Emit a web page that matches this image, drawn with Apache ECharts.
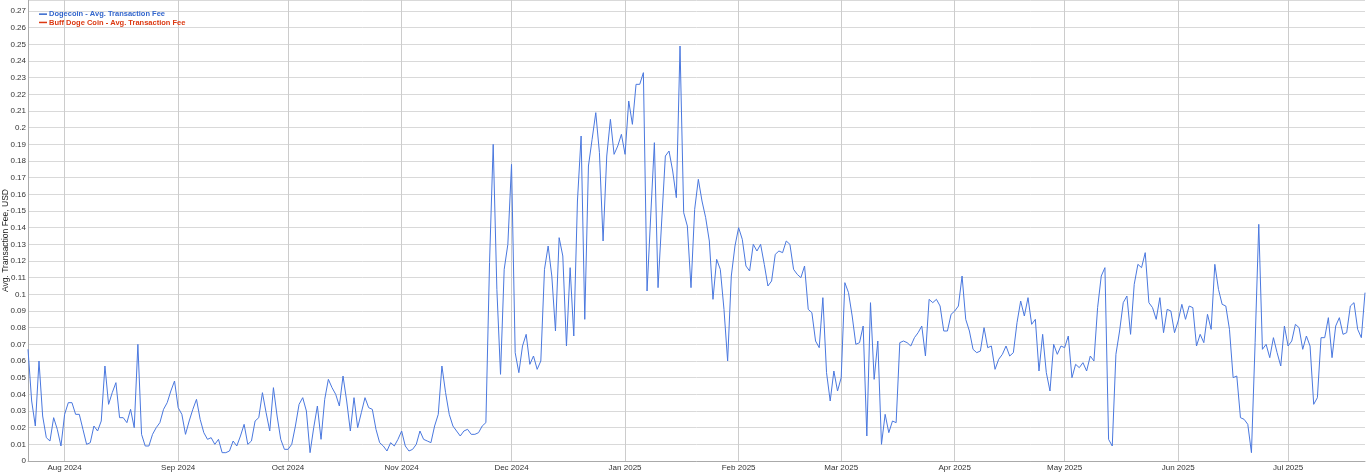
<!DOCTYPE html>
<html>
<head>
<meta charset="utf-8">
<script src="https://cdn.jsdelivr.net/npm/echarts@6/dist/echarts.min.js"></script>
<style>
html,body{margin:0;padding:0;background:#fff;}
#chart{width:1366px;height:472px;}
</style>
</head>
<body>
<div id="chart"></div>
<script>
// Daily average transaction fee (USD), Dogecoin, 2024-07-22 .. 2025-07-22
const startDate = '2024-07-22';
const jul2024 = [0.067,0.036,0.021,0.060,0.027,0.014,0.012,0.026,0.019,0.009];
const aug2024 = [0.028,0.035,0.035,0.028,0.028,0.019,0.010,0.011,0.021,0.018,0.024,0.057,0.034,0.041,0.047,0.026,0.026,0.023,0.031,0.020,0.070,0.016,0.009,0.009,0.016,0.020,0.023,0.031,0.035,0.042,0.048];
const sep2024 = [0.032,0.028,0.016,0.024,0.031,0.037,0.025,0.017,0.013,0.014,0.010,0.013,0.005,0.005,0.006,0.012,0.009,0.015,0.022,0.010,0.012,0.024,0.026,0.041,0.029,0.018,0.044,0.027,0.013,0.007];
const oct2024 = [0.007,0.010,0.021,0.034,0.038,0.030,0.005,0.020,0.033,0.013,0.037,0.049,0.044,0.040,0.033,0.051,0.036,0.018,0.038,0.020,0.029,0.038,0.032,0.031,0.019,0.011,0.009,0.006,0.011,0.009,0.013];
const nov2024 = [0.018,0.009,0.006,0.007,0.010,0.018,0.013,0.012,0.011,0.021,0.028,0.057,0.041,0.028,0.021,0.018,0.015,0.018,0.019,0.016,0.016,0.017,0.021,0.023,0.119,0.190,0.103,0.052,0.115,0.130];
const dec2024 = [0.178,0.065,0.053,0.069,0.076,0.058,0.063,0.055,0.060,0.115,0.129,0.111,0.078,0.134,0.123,0.069,0.116,0.075,0.156,0.195,0.085,0.177,0.193,0.209,0.185,0.132,0.183,0.205,0.184,0.189,0.196];
const jan2025 = [0.184,0.216,0.202,0.226,0.226,0.233,0.102,0.147,0.191,0.104,0.144,0.183,0.186,0.174,0.158,0.249,0.149,0.141,0.104,0.151,0.169,0.156,0.146,0.132,0.097,0.121,0.115,0.091,0.060,0.111,0.129];
const feb2025 = [0.140,0.133,0.117,0.114,0.130,0.126,0.130,0.118,0.105,0.108,0.124,0.126,0.125,0.132,0.130,0.115,0.112,0.110,0.117,0.091,0.089,0.072,0.068,0.098,0.053,0.036,0.054,0.042];
const mar2025 = [0.050,0.107,0.101,0.087,0.070,0.071,0.081,0.015,0.095,0.049,0.072,0.010,0.028,0.017,0.024,0.023,0.071,0.072,0.071,0.069,0.074,0.077,0.081,0.063,0.097,0.095,0.097,0.093,0.078,0.078,0.088];
const apr2025 = [0.090,0.093,0.111,0.085,0.078,0.067,0.065,0.066,0.080,0.068,0.069,0.055,0.061,0.064,0.069,0.063,0.065,0.083,0.096,0.087,0.098,0.082,0.085,0.054,0.076,0.053,0.042,0.070,0.064,0.069];
const may2025 = [0.068,0.075,0.050,0.058,0.056,0.059,0.054,0.063,0.060,0.092,0.111,0.116,0.013,0.009,0.064,0.078,0.095,0.099,0.076,0.106,0.118,0.116,0.125,0.095,0.092,0.085,0.098,0.077,0.091,0.090,0.077];
const jun2025 = [0.084,0.094,0.085,0.093,0.092,0.069,0.076,0.071,0.088,0.079,0.118,0.103,0.094,0.093,0.079,0.050,0.051,0.026,0.025,0.022,0.005,0.071,0.142,0.067,0.070,0.062,0.074,0.065,0.057,0.081];
const jul2025 = [0.069,0.072,0.082,0.080,0.067,0.075,0.069,0.034,0.038,0.074,0.074,0.086,0.062,0.081,0.086,0.076,0.077,0.093,0.095,0.079,0.074,0.101];
const buffDogeValues = [];

const tickDates  = ['2024-08-01','2024-09-01','2024-10-01','2024-11-01','2024-12-01','2025-01-01','2025-02-01','2025-03-01','2025-04-01','2025-05-01','2025-06-01','2025-07-01'];
const tickLabels = ['Aug 2024','Sep 2024','Oct 2024','Nov 2024','Dec 2024','Jan 2025','Feb 2025','Mar 2025','Apr 2025','May 2025','Jun 2025','Jul 2025'];

const dogeValues = [].concat(jul2024,aug2024,sep2024,oct2024,nov2024,dec2024,jan2025,feb2025,mar2025,apr2025,may2025,jun2025,jul2025);

const categories = [];
(function(){
  const p = startDate.split('-').map(Number);
  const t0 = Date.UTC(p[0], p[1]-1, p[2]);
  for (let i = 0; i < dogeValues.length; i++) {
    categories.push(new Date(t0 + i*86400000).toISOString().slice(0,10));
  }
})();

const labelOf = {};
tickDates.forEach((d,i)=>{ labelOf[d] = tickLabels[i]; });
const isTick = (idx, val) => labelOf[val] !== undefined;

const FONT = 'Arial, "Liberation Sans", sans-serif';
const chart = echarts.init(document.getElementById('chart'), null, {renderer:'canvas'});
chart.setOption({
  animation: false,
  backgroundColor: '#ffffff',
  textStyle: {fontFamily: FONT},
  legend: {
    orient: 'vertical',
    left: 34, top: 5,
    itemWidth: 8, itemHeight: 1.5, itemGap: 0,
    icon: 'rect',
    textStyle: {fontSize: 7.5, fontWeight: 'bold', fontFamily: FONT, lineHeight: 8.3, padding:[0,0,0,-3]},
    data: [
      {name: 'Dogecoin - Avg. Transaction Fee', textStyle: {color: '#3366cc'}},
      {name: 'Buff Doge Coin - Avg. Transaction Fee', textStyle: {color: '#dc3912'}}
    ]
  },
  grid: {left: 28, right: 1, top: 0, bottom: 11, containLabel: false, outerBoundsMode: 'none'},
  xAxis: {
    type: 'category',
    data: categories,
    boundaryGap: false,
    axisLine: {show: true, lineStyle: {color: '#aaa', width: 1}},
    axisTick: {show: false},
    axisLabel: {interval: isTick, formatter: v => labelOf[v] || '', fontSize: 8, color: '#333', margin: 3, fontFamily: FONT},
    splitLine: {show: true, interval: isTick, lineStyle: {color: '#cccccc', width: 1}}
  },
  yAxis: {
    type: 'value',
    min: 0, max: 0.2766, interval: 0.01,
    name: 'Avg. Transaction Fee, USD',
    nameLocation: 'middle',
    nameGap: 18,
    nameMoveOverlap: false,
    nameTextStyle: {fontSize: 8.5, color: '#222', fontFamily: FONT, padding: [0, 20, 0, 0]},
    axisLine: {show: true, lineStyle: {color: '#aaa'}},
    axisTick: {show: false},
    axisLabel: {fontSize: 8, color: '#333', margin: 2, showMaxLabel: false, fontFamily: FONT,
      formatter: v => (Math.round(v*100)/100).toString()},
    splitLine: {show: true, lineStyle: {color: '#d9d9d9', width: 1}}
  },
  series: [
    {name: 'Dogecoin - Avg. Transaction Fee', type: 'line', data: dogeValues, showSymbol: false, symbol: 'none',
     lineStyle: {color: '#4a78df', width: 1}, itemStyle: {color: '#3366cc'}},
    {name: 'Buff Doge Coin - Avg. Transaction Fee', type: 'line', data: buffDogeValues, showSymbol: false, symbol: 'none',
     lineStyle: {color: '#dc3912', width: 1}, itemStyle: {color: '#dc3912'}}
  ]
});
</script>
</body>
</html>
